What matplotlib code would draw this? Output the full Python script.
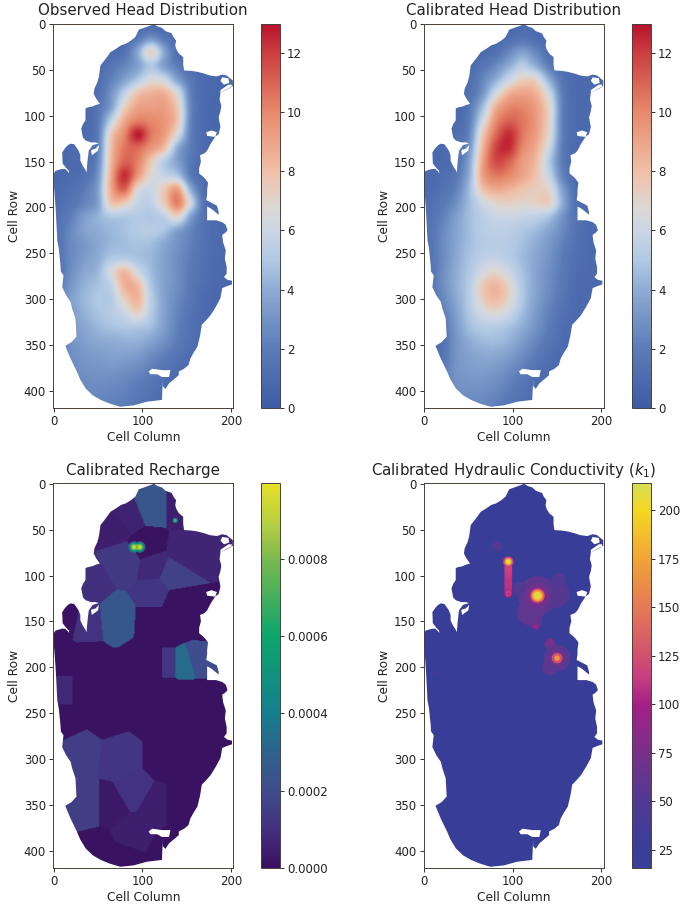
"""Four panel map of head, recharge and conductivity over the model domain."""

import numpy as np
import matplotlib
matplotlib.use('Agg')
import matplotlib.pyplot as plt
from matplotlib.colors import LinearSegmentedColormap, Normalize
from matplotlib.path import Path
from matplotlib.patches import PathPatch

# domain boundary as (column, row)
outline_cols = [113, 117, 122, 126, 133, 135, 138, 137, 138, 141, 146, 146, 147, 155, 162, 170, 176, 184, 190, 195, 202, 202,
                195, 188, 187, 189, 188, 186, 187, 188, 186, 182, 177, 173, 170, 165, 166, 164, 164, 168, 171, 174, 173, 173, 172, 178, 184,
                186, 186, 181, 177, 173, 173, 183, 190, 194, 196, 193, 190, 191, 194, 193, 195, 195, 192, 196, 201, 201, 195, 190, 188, 183,
                177, 172, 167, 165, 162, 158, 154, 152, 147, 141, 141, 135, 130, 126, 123, 123, 122, 105, 90, 75, 63, 53, 44, 36, 30, 26, 19, 13,
                20, 25.6, 25, 24.5, 21, 19, 14, 9.5, 11, 8, 7.6, 5.7, 4, 3, 2, 1, 0, 0, 2, 4, 9, 13, 16, 19, 21, 20, 18, 17,
                14, 10, 9.5, 13, 16, 19, 23, 26, 28, 30, 30, 33, 36, 37, 38, 39.5, 44, 51, 47, 42, 36, 33, 31, 33, 35.8, 35.8, 38, 43, 48, 52, 48, 45,
                46, 49, 51, 52.7, 56, 60, 64, 70, 76, 81, 87, 92, 94, 96, 102, 109]
outline_rows = [0, 2.5, 4, 7.6, 10, 14, 18, 23, 27, 32, 36, 44, 50.5, 51, 52, 54, 56, 57, 55, 56, 61.5, 67.6,
                71, 75, 82, 89, 95, 101.5, 107, 112, 120, 123, 130.5, 138, 141, 143, 150, 157, 163, 166, 169, 173, 181, 186, 192, 195, 198,
                205, 208, 204, 201, 199, 214, 214, 216, 219, 225, 228, 230, 238, 247, 256, 265, 272, 276, 279, 280, 284, 286, 288, 299, 308,
                317.5, 323, 328, 340, 352, 358, 365, 372, 376, 379, 383, 388, 392, 398, 395, 388.5, 410, 412, 416, 417.5, 414, 410, 405, 397.5, 388, 379, 365, 351,
                347, 341, 330, 321, 311, 303, 296, 287, 274, 270, 263, 245, 236, 217, 199, 186, 174, 163, 160, 159.5, 158, 158, 161, 165, 172, 176, 168, 160,
                157, 152, 140, 135, 132, 130.4, 131, 135, 138, 143, 149, 155, 159.5, 162, 150, 138, 132, 130, 129, 129, 127, 124, 114, 109, 105, 92, 91, 90, 88, 87, 81.5, 76,
                70, 64, 57, 45, 41, 36, 30.5, 27, 23, 21.5, 18, 14, 10, 6, 4, 1.5]

# water bodies inside the boundary, written against the boundary's direction
bay_cols = [107, 109, 116.6, 122, 130, 131.6, 122, 111]
bay_rows = [379, 382, 382, 385, 385, 377.5, 377.5, 376]
lagoon_cols = [188, 200, 201, 197, 188]
lagoon_rows = [75, 69, 66, 66, 72]
islet_cols = [188, 192, 198, 197, 190]
islet_rows = [62, 66, 64, 59, 58]
sliver_cols = [42, 43, 50, 51, 47, 43]
sliver_rows = [138, 143, 138, 132, 136, 137]
east_cols = [172, 173, 182, 184, 178]
east_rows = [118, 122, 123, 118, 116]

cell_cols = [5, 20, 35, 50, 65, 80, 95, 110, 125, 140, 155, 170, 185, 200]

observed_head = np.array([
    [.8, .8, .8, .8, .8, .8, .8, 1.0, .8, .8, .8, .8, .8, .8],
    [.8, .8, .8, .8, .9, 1.0, 1.8, 3.0, 1.8, 1.0, .8, .8, .8, .8],
    [.8, .8, .8, .9, 1.0, 1.5, 3.8, 7.2, 3.8, 1.2, .9, .8, .8, .8],
    [.8, .8, .9, 1.0, 1.6, 2.4, 3.5, 5.0, 3.4, 2.0, 1.0, .8, .8, .8],
    [.8, .8, .9, 1.2, 2.2, 3.5, 5.0, 6.5, 6.0, 3.5, 1.8, 1.0, .8, .8],
    [.8, .8, 1.0, 1.4, 3.0, 5.5, 7.8, 8.5, 8.5, 6.5, 2.2, 1.0, .8, .8],
    [.8, .8, .8, 1.6, 3.5, 7.2, 9.0, 9.2, 9.2, 7.5, 2.5, 1.0, .8, .8],
    [.8, .8, .9, 1.8, 5.5, 8.8, 10.2, 10.0, 9.5, 7.8, 2.4, 1.0, .8, .8],
    [.8, .9, 1.0, 2.0, 7.5, 10.0, 12.8, 10.5, 9.3, 6.5, 2.2, 1.0, .8, .8],
    [.8, 1.0, 1.1, 2.2, 8.0, 10.5, 10.8, 9.5, 8.0, 4.0, 2.0, 1.0, .8, .8],
    [.8, 1.0, 1.2, 2.5, 8.3, 11.0, 10.2, 7.6, 5.2, 3.6, 1.8, 1.0, .8, .8],
    [.9, 1.1, 1.4, 3.0, 8.8, 12.4, 9.5, 6.8, 5.8, 5.0, 2.0, 1.0, .8, .8],
    [1.0, 1.3, 2.0, 3.5, 8.8, 11.0, 6.8, 6.0, 7.6, 9.2, 4.0, 1.2, .9, .8],
    [1.2, 1.6, 2.4, 3.5, 7.8, 7.5, 5.8, 5.6, 7.5, 10.2, 6.0, 1.5, 1.0, .8],
    [1.4, 2.2, 3.4, 4.2, 5.0, 5.0, 5.2, 5.0, 5.5, 7.0, 3.5, 1.5, 1.0, .8],
    [1.6, 2.6, 3.6, 4.0, 4.4, 4.8, 5.2, 5.3, 4.8, 3.5, 2.4, 1.4, 1.0, .8],
    [1.6, 2.6, 3.2, 3.8, 4.4, 4.6, 4.8, 4.6, 3.8, 3.0, 2.2, 1.4, 1.0, .8],
    [1.6, 2.6, 3.4, 4.0, 5.0, 5.2, 4.8, 4.4, 3.6, 2.8, 2.0, 1.3, 1.0, .8],
    [1.6, 2.8, 3.8, 4.4, 6.4, 8.3, 6.2, 4.6, 3.6, 2.8, 1.9, 1.3, .9, .8],
    [2.0, 3.2, 4.2, 4.8, 5.6, 8.5, 8.2, 5.0, 3.6, 2.8, 1.8, 1.2, .9, .8],
    [2.2, 3.5, 4.4, 5.0, 5.2, 7.2, 8.4, 5.4, 3.6, 2.6, 1.7, 1.0, .8, .8],
    [2.2, 3.2, 4.2, 4.8, 5.2, 6.0, 7.2, 5.2, 3.6, 2.4, 1.5, 1.0, .8, .8],
    [2.2, 3.2, 3.8, 4.4, 4.8, 5.0, 5.0, 4.6, 3.4, 2.2, 1.4, 1.0, .8, .8],
    [2.2, 3.0, 3.5, 3.9, 4.0, 4.2, 4.2, 3.7, 2.9, 2.0, 1.3, .9, .8, .8],
    [2.2, 2.8, 3.2, 3.4, 3.6, 3.6, 3.4, 2.8, 2.2, 1.6, 1.1, .9, .8, .8],
    [2.2, 2.6, 3.0, 3.1, 3.2, 3.0, 2.7, 2.2, 1.6, 1.2, 1.0, .8, .8, .8],
    [2.2, 2.5, 2.7, 2.8, 2.7, 2.5, 2.1, 1.7, 1.2, 1.0, .9, .8, .8, .8],
    [2.2, 2.4, 2.5, 2.5, 2.4, 2.2, 1.8, 1.4, 1.1, 1.0, .9, .8, .8, .8],
    [2.2, 2.3, 2.4, 2.4, 2.2, 2.0, 1.6, 1.3, 1.0, .9, .8, .8, .8, .8],
])

calibrated_head = np.array([
    [1.0, 1.0, 1.0, 1.0, 1.0, 1.0, 1.0, 1.1, 1.0, 1.0, 1.0, 1.0, 1.0, 1.0],
    [1.0, 1.0, 1.0, 1.0, 1.0, 1.0, 1.2, 1.6, 1.2, 1.0, 1.0, 1.0, 1.0, 1.0],
    [1.0, 1.0, 1.0, 1.0, 1.0, 1.4, 2.5, 3.5, 2.5, 1.2, 1.0, 1.0, 1.0, 1.0],
    [1.0, 1.0, 1.0, 1.0, 1.6, 2.6, 4.0, 5.3, 4.0, 2.0, 1.0, 1.0, 1.0, 1.0],
    [1.0, 1.0, 1.0, 1.2, 2.4, 4.0, 6.0, 7.3, 7.0, 4.0, 1.6, 1.0, 1.0, 1.0],
    [1.0, 1.0, 1.0, 1.4, 3.0, 6.2, 8.5, 9.0, 8.5, 6.0, 2.0, 1.0, 1.0, 1.0],
    [1.0, 1.0, .9, 1.8, 4.5, 8.5, 10.0, 10.0, 9.2, 7.0, 2.2, 1.0, 1.0, 1.0],
    [1.0, 1.0, 1.0, 2.0, 6.0, 9.8, 11.0, 10.5, 9.4, 7.0, 2.2, 1.0, 1.0, 1.0],
    [1.0, 1.0, 1.2, 2.4, 7.5, 10.8, 12.4, 10.5, 9.2, 6.8, 2.2, 1.0, 1.0, 1.0],
    [1.0, 1.0, 1.4, 3.0, 8.3, 11.8, 12.4, 10.0, 8.7, 6.0, 2.0, 1.0, 1.0, 1.0],
    [1.0, 1.0, 1.4, 3.6, 9.0, 11.6, 11.0, 9.3, 8.2, 5.2, 2.0, 1.0, 1.0, 1.0],
    [1.0, 1.2, 1.8, 4.0, 9.0, 10.4, 10.0, 9.0, 7.8, 5.8, 2.4, 1.0, 1.0, 1.0],
    [1.0, 1.4, 2.2, 4.5, 7.8, 8.8, 8.5, 7.8, 7.4, 6.9, 3.5, 1.2, 1.0, 1.0],
    [1.2, 1.8, 2.8, 4.5, 6.0, 7.0, 7.2, 7.0, 7.1, 7.2, 4.0, 1.4, 1.0, 1.0],
    [1.4, 2.2, 3.4, 4.6, 5.4, 6.0, 6.0, 5.8, 5.5, 4.8, 3.0, 1.5, 1.0, 1.0],
    [1.5, 2.5, 3.6, 4.6, 5.3, 5.5, 5.4, 5.0, 4.5, 3.7, 2.6, 1.5, 1.0, 1.0],
    [1.5, 2.6, 3.7, 4.6, 5.2, 5.3, 5.2, 4.7, 4.0, 3.2, 2.2, 1.4, 1.0, 1.0],
    [1.5, 2.6, 3.8, 4.8, 5.5, 5.7, 5.3, 4.5, 3.8, 3.0, 2.0, 1.3, 1.0, 1.0],
    [1.5, 2.7, 4.0, 5.0, 6.3, 7.0, 6.0, 4.8, 3.7, 2.8, 1.9, 1.2, 1.0, 1.0],
    [1.5, 2.7, 4.0, 5.2, 7.5, 8.3, 7.0, 5.0, 3.7, 2.7, 1.8, 1.1, 1.0, 1.0],
    [1.4, 2.4, 3.8, 5.2, 7.3, 8.2, 7.0, 5.0, 3.6, 2.5, 1.6, 1.0, 1.0, 1.0],
    [1.2, 2.0, 3.5, 5.0, 6.3, 6.8, 6.0, 4.6, 3.3, 2.2, 1.4, 1.0, 1.0, 1.0],
    [1.1, 1.6, 3.2, 4.6, 5.2, 5.2, 4.8, 4.0, 3.0, 2.0, 1.2, 1.0, 1.0, 1.0],
    [1.0, 1.4, 3.0, 4.0, 4.5, 4.6, 4.2, 3.4, 2.5, 1.7, 1.1, 1.0, 1.0, 1.0],
    [1.0, 1.5, 3.0, 3.6, 3.9, 3.9, 3.5, 2.8, 2.0, 1.3, 1.0, 1.0, 1.0, 1.0],
    [1.0, 1.8, 3.0, 3.4, 3.5, 3.3, 2.8, 2.2, 1.5, 1.1, 1.0, 1.0, 1.0, 1.0],
    [1.0, 2.0, 2.9, 3.1, 3.1, 2.8, 2.3, 1.7, 1.2, 1.0, 1.0, 1.0, 1.0, 1.0],
    [1.0, 2.0, 2.7, 2.8, 2.7, 2.4, 1.9, 1.4, 1.1, 1.0, 1.0, 1.0, 1.0, 1.0],
    [1.0, 2.0, 2.5, 2.5, 2.4, 2.1, 1.7, 1.3, 1.0, 1.0, 1.0, 1.0, 1.0, 1.0],
])

# pilot points: each cell takes the value of the nearest one
recharge_cols = [109, 145, 70, 85, 105, 82, 112, 114, 135, 150, 40, 38, 70, 15, 114, 128, 147, 163,
                 12, 30, 38, 75, 90, 65, 90, 115,
                 70, 40, 100, 140, 147, 165, 128, 118, 147, 163, 128, 30, 12, 12, 75, 125, 140, 130, 50, 80, 170, 60, 110]
recharge_rows = [25, 25, 45, 35, 68, 85, 90, 118, 100, 75, 110, 150, 147, 145, 150, 197, 197, 192,
                 225, 295, 350, 300, 335, 350, 380, 350,
                 210, 195, 195, 130, 150, 150, 160, 197, 230, 232, 225, 225, 195, 255, 240, 300, 350, 400, 400, 410, 280, 250, 250]
recharge_vals = [.00024, .00005, .00005, .00006, .00001, .00014, .00008, .00012, .00016, .00007, .00010, .00011, .00025, .00001, .00001,
                 .00012, .00033, .00020, .00008, .00015, .00015, .00012, .00011, .00003, .00005, .00005,
                 .00001, .00001, .00001, .00001, .00001, .00001, .00001, .00001, .00001, .00001, .00001, .00001, .00001, .00001,
                 .00001, .00001, .00001, .00001, .00001, .00001, .00001, .00001, .00001]

# narrow wells in the recharge field, wide ones first: column, row, value, radius
recharge_spot_cols = [90.5, 97, 90.5, 97, 90.5, 97, 94, 90.5, 97, 137, 137]
recharge_spot_rows = [69, 69, 69, 69, 69, 69, 69, 69, 69, 40, 40]
recharge_spot_vals = [.00030, .00030, .00055, .00055, .00075, .00075, .00080, .00092, .00092, .00040, .00072]
recharge_spot_size = [6.5, 6.5, 5, 5, 3.6, 3.6, 3, 2.2, 2.2, 3, 1.6]

# conductivity halos and wells on a flat background, wide ones first
k1_background = 22
k1_spot_cols = [128, 148, 152, 108, 120, 125, 150, 142, 142, 128, 150, 82, 82, 95, 95, 95, 95, 95, 95, 95, 95, 95, 95, 95, 95, 95, 128, 128, 128, 128, 126, 150, 150, 142, 12]
k1_spot_rows = [122, 120, 105, 115, 140, 150, 190, 200, 175, 122, 190, 68, 68, 120, 116, 112, 108, 104, 100, 96, 92, 85, 85, 85, 120, 120, 122, 122, 122, 122, 156, 190, 190, 172, 207]
k1_spot_vals = [58, 54, 50, 52, 60, 62, 56, 58, 66, 68, 70, 45, 54, 100, 106, 108, 110, 110, 112, 114, 116, 116, 155, 205, 125, 108, 88, 135, 180, 207, 100, 125, 170, 74, 40]
k1_spot_size = [22, 16, 8, 8, 15, 8, 15, 9, 6, 15, 9, 6, 3.5, 4.5, 4.5, 4.5, 4.5, 4.5, 4.5, 4.5, 4.5, 6, 4.5, 3, 3, 2, 10, 8, 6, 4, 3, 6, 3, 4, 2]

head_stops = [(0, '#3f5ba5'), (2 / 13, '#5b7cb8'), (4 / 13, '#8eacd4'), (5 / 13, '#b0c9e4'), (6 / 13, '#ccd6e6'),
              (6.8 / 13, '#dcd8d4'), (8 / 13, '#f0c0a8'), (10 / 13, '#e88a6c'), (12 / 13, '#cc3f3f'), (1, '#b8122f')]
recharge_stops = [(0, '#3a1060'), (.1, '#43307f'), (.2, '#3f4d8c'), (.3, '#2f628c'), (.4, '#157f8e'),
                  (.6, '#0ca56c'), (.8, '#78b850'), (.9, '#b8d040'), (1, '#e8df2a')]
k1_stops = [(0, '#37409a'), (.05, '#393e98'), (.17, '#4f3a93'), (.3, '#78308a'), (.425, '#a51f86'), (.5, '#c83f80'),
            (.55, '#d0506f'), (.68, '#e57a55'), (.8, '#f1a236'), (.93, '#f4d821'), (1, '#d6de54')]

TICK_SIZE = 8.5
LABEL_SIZE = 8.8


def boundary_path():
    """Returns the domain boundary with its water bodies cut out."""
    rings = [(outline_cols, outline_rows), (bay_cols, bay_rows), (lagoon_cols, lagoon_rows), (islet_cols, islet_rows),
             (sliver_cols, sliver_rows), (east_cols, east_rows)]
    verts = []
    codes = []
    for cols, rows in rings:
        ring = list(zip(cols, rows))
        verts += ring + [ring[0]]
        codes += [Path.MOVETO] + [Path.LINETO] * (len(ring) - 1) + [Path.CLOSEPOLY]
    return Path(verts, codes)


def nearest_field(cols, rows, vals):
    """Gives every model cell the value of its nearest pilot point."""
    r, c = np.mgrid[0:419, 0:203]
    dist = (r[..., None] - np.array(rows)) ** 2 + (c[..., None] - np.array(cols)) ** 2
    return np.array(vals)[dist.argmin(axis=2)]


def to_fraction(box):
    left, top, right, bottom = box
    return [left / 685, 1 - bottom / 907, (right - left) / 685, (bottom - top) / 907]


def setup_panel(box, cbar_box, title, image, norm, cmap, cbar_ticks):
    """Places the map and colorbar at pixel boxes (left, top, right, bottom)."""
    ax = fig.add_axes(to_fraction(box))
    cax = fig.add_axes(to_fraction(cbar_box))
    clip = PathPatch(boundary_path(), transform=ax.transData, fc='none', ec='none')
    ax.add_patch(clip)
    for artist in image(ax, norm, cmap):
        artist.set_clip_path(clip)
    ax.set_xlim(-0.5, 202.5)
    ax.set_ylim(418.5, -0.5)
    ax.set_aspect('auto')
    ax.set_xticks([0, 100, 200])
    ax.set_yticks([0, 50, 100, 150, 200, 250, 300, 350, 400])
    ax.tick_params(labelsize=TICK_SIZE, length=2.8, width=0.7, pad=2.5, color='#333333', labelcolor='#222222')
    ax.set_xlabel('Cell Column', fontsize=LABEL_SIZE, color='#222222', labelpad=2)
    ax.set_ylabel('Cell Row', fontsize=LABEL_SIZE, color='#222222', labelpad=2)
    ax.set_title(title, fontsize=10.8, color='#222222', pad=6)
    for spine in ax.spines.values():
        spine.set_color('#4a4038')
        spine.set_linewidth(0.7)
    cbar = fig.colorbar(plt.cm.ScalarMappable(norm=norm, cmap=cmap), cax=cax, ticks=cbar_ticks)
    cbar.ax.tick_params(labelsize=TICK_SIZE, length=2.8, width=0.7, pad=2.5, color='#333333', labelcolor='#222222')
    cbar.outline.set_edgecolor('#4a4038')
    cbar.outline.set_linewidth(0.7)
    return ax


def head_image(field):
    def draw(ax, norm, cmap):
        return [ax.imshow(field, cmap=cmap, norm=norm, interpolation='catrom',
                          extent=(-2.5, 207.5, 427.5, -7.5))]
    return draw


def zone_image(field, spot_cols, spot_rows, spot_vals, spot_size):
    def draw(ax, norm, cmap):
        im = ax.imshow(field, cmap=cmap, norm=norm, interpolation='bilinear', extent=(-0.5, 202.5, 418.5, -0.5))
        # marker area follows from the radius in cells
        sizes = [(2 * r * 0.887 * 0.72) ** 2 for r in spot_size]
        dots = ax.scatter(spot_cols, spot_rows, c=spot_vals, s=sizes, cmap=cmap, norm=norm, linewidths=0, zorder=3)
        return [im, dots]
    return draw


fig = plt.figure(figsize=(6.85, 9.07), dpi=100)

head_norm = Normalize(0, 13)
head_cmap = LinearSegmentedColormap.from_list('head', head_stops)
recharge_cmap = LinearSegmentedColormap.from_list('recharge', recharge_stops)
k1_cmap = LinearSegmentedColormap.from_list('k1', k1_stops)

setup_panel((53.3, 23.7, 233.3, 407.7), (261, 23.7, 279.5, 407.7), 'Observed Head Distribution',
            head_image(observed_head), head_norm, head_cmap, [0, 2, 4, 6, 8, 10, 12])
setup_panel((423.5, 23.7, 603.7, 407.7), (631.7, 23.7, 650.7, 407.7), 'Calibrated Head Distribution',
            head_image(calibrated_head), head_norm, head_cmap, [0, 2, 4, 6, 8, 10, 12])
setup_panel((53.3, 483.3, 233.3, 867.7), (261, 483.3, 279.5, 867.7), 'Calibrated Recharge',
            zone_image(nearest_field(recharge_cols, recharge_rows, recharge_vals),
                       recharge_spot_cols, recharge_spot_rows, recharge_spot_vals, recharge_spot_size),
            Normalize(0, 0.000996), recharge_cmap, [0, 0.0002, 0.0004, 0.0006, 0.0008])
setup_panel((423.5, 483.3, 603.7, 867.7), (631.7, 483.3, 650.7, 867.7), 'Calibrated Hydraulic Conductivity ($k_1$)',
            zone_image(np.full((419, 203), k1_background),
                       k1_spot_cols, k1_spot_rows, k1_spot_vals, k1_spot_size),
            Normalize(15.9, 213.7), k1_cmap, [25, 50, 75, 100, 125, 150, 175, 200])

fig.savefig('out.png', dpi=100)
